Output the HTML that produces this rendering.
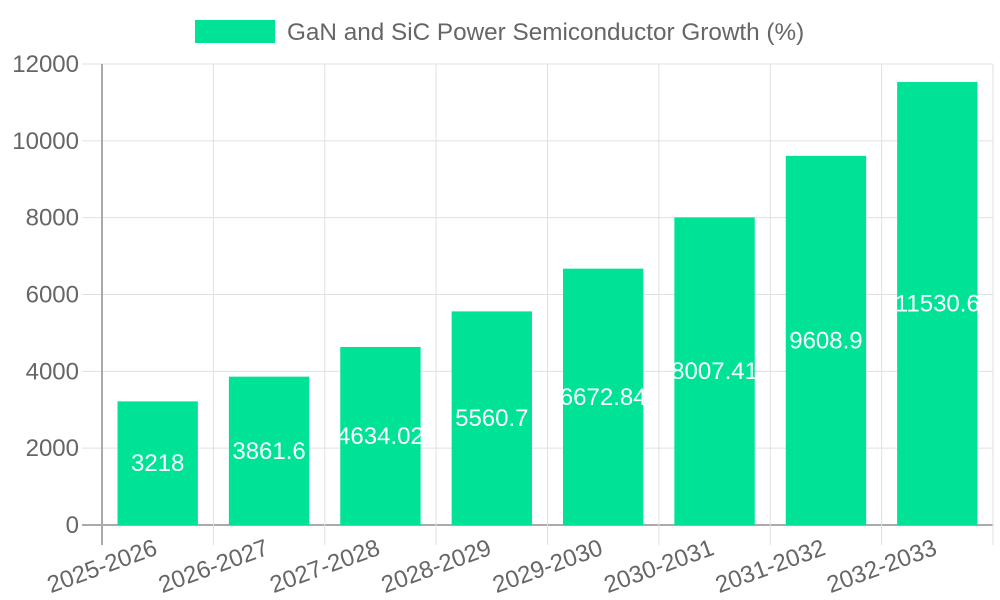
<!DOCTYPE html>
<html><head><meta charset="utf-8"><style>body{margin:0;background:#fff}svg{display:block;font-family:"Liberation Sans",sans-serif}</style></head>
<body>
<svg id="chart" width="1000" height="600">
<g id="legend">
<rect x="195" y="20" width="80" height="23" fill="#00e396"></rect>
<text x="287" y="40" font-size="24.3" fill="#666">GaN and SiC Power Semiconductor Growth (%)</text>
</g>
<g id="grid"></g><g id="bars"></g><g id="axes"></g>
</svg>
<script>
const categories=["2025-2026","2026-2027","2027-2028","2028-2029","2029-2030","2030-2031","2031-2032","2032-2033"];
const values=[3218,3861.6,4634.02,5560.7,6672.84,8007.41,9608.9,11530.6];
const yTicks=[0,2000,4000,6000,8000,10000,12000];
const NS="http://www.w3.org/2000/svg";
const L=102,R=993,T=64,B=525,yMax=12000;
const bw=(R-L)/categories.length;
const y=v=>B-(v/yMax)*(B-T);
const x=i=>L+i*bw;
function mk(t,a,p){const e=document.createElementNS(NS,t);for(const k in a)e.setAttribute(k,a[k]);p.appendChild(e);return e;}
const grid=document.getElementById('grid'),bars=document.getElementById('bars'),axes=document.getElementById('axes');
const defs=mk('defs',{},document.getElementById('chart'));
yTicks.forEach(v=>{
 const l=mk('line',{x1:82,x2:R,y1:y(v),y2:y(v),stroke:v===0?'#aaa':'#e0e0e0','stroke-width':v===0?2:1},grid);
 
 
 const t=mk('text',{x:79,y:y(v)+8,'text-anchor':'end','font-size':24,fill:'#666'},axes);
 t.textContent=v;
 
 
});
for(let i=0;i<=categories.length;i++){
 const l=mk('line',{x1:x(i),x2:x(i),y1:T,y2:545,stroke:i===0?'#aaa':'#e0e0e0','stroke-width':i===0?2:1},grid);
 
 
}
categories.forEach((c,i)=>{
 const bx=x(i)+15.5,w=bw-31,top=y(values[i]);
 const cp=mk('clipPath',{id:'c'+i},defs);mk('rect',{x:bx,y:top,width:w,height:B-top},cp);
 const r=mk('rect',{x:bx,y:top,width:w,height:B-top,fill:'#00e396'},bars);
 
 
 const t=mk('text',{x:bx+w/2,y:(top+B)/2+8,'text-anchor':'middle','font-size':24,fill:'#fff','clip-path':'url(#c'+i+')'},bars);
 t.textContent=values[i];
 
 
 const cx=x(i)+bw/2+1;
 const xl=mk('text',{x:cx,y:554,'text-anchor':'end','font-size':24,fill:'#666',transform:`rotate(-20 ${cx} 554)`},axes);
 xl.textContent=c;
 
 
});
</script>
</body></html>
